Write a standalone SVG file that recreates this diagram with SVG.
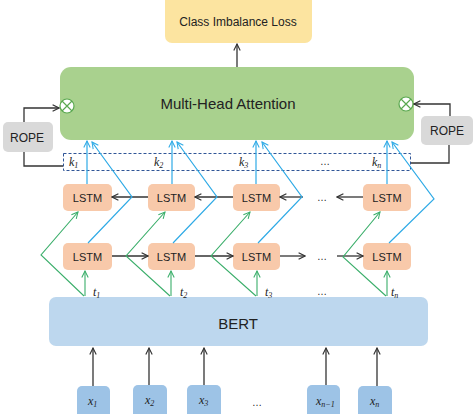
<svg xmlns="http://www.w3.org/2000/svg" width="474" height="414" viewBox="0 0 474 414">
<defs>
<style>
.lbl{font-family:"Liberation Sans",Arial,sans-serif;fill:#222;text-anchor:middle;dominant-baseline:central}
.math{font-family:"Liberation Serif","Times New Roman",serif;font-style:italic;fill:#222;font-size:12px}
.sub{font-size:8px}
.blk{stroke:#333;stroke-width:1.3;fill:none}
.blu{stroke:#2eaae6;stroke-width:1.2;fill:none}
.grn{stroke:#3aae6a;stroke-width:1.1;fill:none}
.lstm{fill:#f8c9aa}
.xin{fill:#9dc3e6}
</style>
<marker id="ak" viewBox="0 0 10 10" refX="9" refY="5" markerWidth="8" markerHeight="8" orient="auto" markerUnits="userSpaceOnUse"><path d="M1,1 L9,5 L1,9" fill="none" stroke="#333" stroke-width="1.4"/></marker>
<marker id="ab" viewBox="0 0 10 10" refX="9" refY="5" markerWidth="8" markerHeight="8" orient="auto" markerUnits="userSpaceOnUse"><path d="M1,1 L9,5 L1,9" fill="none" stroke="#2eaae6" stroke-width="1.3"/></marker>
<marker id="ag" viewBox="0 0 10 10" refX="9" refY="5" markerWidth="8" markerHeight="8" orient="auto" markerUnits="userSpaceOnUse"><path d="M1,1 L9,5 L1,9" fill="none" stroke="#3aae6a" stroke-width="1.3"/></marker>
</defs>
<rect width="474" height="414" fill="#fff"/>

<g id="loss"><rect x="165" y="-6" width="147" height="49" rx="7" fill="#fce4a0"/><text class="lbl" x="238" y="22" font-size="12">Class Imbalance Loss</text></g>
<g id="mha"><rect x="60" y="67" width="354" height="73" rx="11" fill="#a9d18e"/><text class="lbl" x="228" y="103" font-size="15">Multi-Head Attention</text>
<g stroke="#5aa850" stroke-width="1.2"><circle cx="67" cy="106" r="7" fill="#fff"/><path d="M62,101 L72,111 M72,101 L62,111"/><circle cx="406" cy="104" r="7" fill="#fff"/><path d="M401,99 L411,109 M411,99 L401,109"/></g></g>
<g id="rope-left"><rect x="3" y="122" width="50" height="30" rx="5" fill="#d9d9d9"/><text class="lbl" x="27" y="138" font-size="12">ROPE</text></g>
<g id="rope-right"><rect x="421" y="116" width="52" height="29" rx="5" fill="#d9d9d9"/><text class="lbl" x="447" y="131" font-size="12">ROPE</text></g>
<g id="keys"><rect x="63.5" y="153.5" width="347" height="17" fill="none" stroke="#2f5597" stroke-width="1" stroke-dasharray="3,2"/>
<text class="math" x="69" y="166">k<tspan class="sub" dy="2">1</tspan></text>
<text class="math" x="154" y="166">k<tspan class="sub" dy="2">2</tspan></text>
<text class="math" x="239" y="166">k<tspan class="sub" dy="2">3</tspan></text>
<text class="lbl" x="325" y="161" font-size="10">…</text>
<text class="math" x="372" y="166">k<tspan class="sub" dy="2">n</tspan></text></g>

<g id="lstm-f1"><rect class="lstm" x="63" y="243" width="49" height="27" rx="5"/><text class="lbl" x="87.5" y="257" font-size="11">LSTM</text></g>
<g id="lstm-f2"><rect class="lstm" x="148" y="243" width="47" height="27" rx="5"/><text class="lbl" x="171.5" y="257" font-size="11">LSTM</text></g>
<g id="lstm-f3"><rect class="lstm" x="233" y="243" width="47" height="27" rx="5"/><text class="lbl" x="256.5" y="257" font-size="11">LSTM</text></g>
<g id="lstm-f4"><rect class="lstm" x="363" y="243" width="48" height="27" rx="5"/><text class="lbl" x="387" y="257" font-size="11">LSTM</text></g>
<g id="lstm-b1"><rect class="lstm" x="63" y="184" width="49" height="27" rx="5"/><text class="lbl" x="87.5" y="198" font-size="11">LSTM</text></g>
<g id="lstm-b2"><rect class="lstm" x="148" y="184" width="47" height="27" rx="5"/><text class="lbl" x="171.5" y="198" font-size="11">LSTM</text></g>
<g id="lstm-b3"><rect class="lstm" x="233" y="184" width="47" height="27" rx="5"/><text class="lbl" x="256.5" y="198" font-size="11">LSTM</text></g>
<g id="lstm-b4"><rect class="lstm" x="363" y="184" width="48" height="27" rx="5"/><text class="lbl" x="387" y="198" font-size="11">LSTM</text></g>
<text class="lbl" x="322" y="197" font-size="10">…</text>
<text class="lbl" x="322" y="256" font-size="10">…</text>

<g id="bert"><rect x="49" y="297" width="379" height="49" rx="7" fill="#bdd7ee"/><text class="lbl" x="238" y="323" font-size="15">BERT</text></g>
<text class="math" x="93" y="296">t<tspan class="sub" dy="2">1</tspan></text>
<text class="math" x="180" y="296">t<tspan class="sub" dy="2">2</tspan></text>
<text class="math" x="265" y="296">t<tspan class="sub" dy="2">3</tspan></text>
<text class="lbl" x="322" y="291" font-size="10">…</text>
<text class="math" x="391" y="296">t<tspan class="sub" dy="2">n</tspan></text>

<g id="x1"><rect class="xin" x="77" y="386" width="33" height="34" rx="5"/><text class="math" x="88" y="405">x<tspan class="sub" dy="2">1</tspan></text></g>
<g id="x2"><rect class="xin" x="133" y="385" width="34" height="35" rx="5"/><text class="math" x="145" y="404">x<tspan class="sub" dy="2">2</tspan></text></g>
<g id="x3"><rect class="xin" x="187" y="385" width="34" height="35" rx="5"/><text class="math" x="199" y="404">x<tspan class="sub" dy="2">3</tspan></text></g>
<g id="xn1"><rect class="xin" x="307" y="385" width="33" height="35" rx="5"/><text class="math" x="316" y="405">x<tspan class="sub" dy="2">n−1</tspan></text></g>
<g id="xn"><rect class="xin" x="358" y="386" width="34" height="34" rx="5"/><text class="math" x="370" y="405">x<tspan class="sub" dy="2">n</tspan></text></g>
<text class="lbl" x="257" y="402" font-size="10">…</text>

<g id="connectors">
<path class="blk" d="M237,67 V44" marker-end="url(#ak)"/>
<path class="blk" d="M24,122 V108 H59" marker-end="url(#ak)"/>
<path class="blk" d="M24,152 V166 H63"/>
<path class="blk" d="M450,116 V104 H414" marker-end="url(#ak)"/>
<path class="blk" d="M411,163 H449 V145"/>
<path class="blk" d="M93,386 V348" marker-end="url(#ak)" stroke-width="1.6"/>
<path class="blk" d="M149,385 V348" marker-end="url(#ak)" stroke-width="1"/>
<path class="blk" d="M204,385 V348" marker-end="url(#ak)" stroke-width="1.6"/>
<path class="blk" d="M326,385 V348" marker-end="url(#ak)" stroke-width="1"/>
<path class="blk" d="M377,386 V348" marker-end="url(#ak)" stroke-width="1.6"/>
<path class="blk" d="M112,256 H148" marker-end="url(#ak)"/>
<path class="blk" d="M195,256 H233" marker-end="url(#ak)"/>
<path class="blk" d="M280,256 H305" marker-end="url(#ak)"/>
<path class="blk" d="M337,256 H363" marker-end="url(#ak)"/>
<path class="blk" d="M148,197 H112" marker-end="url(#ak)"/>
<path class="blk" d="M233,197 H195" marker-end="url(#ak)"/>
<path class="blk" d="M303,197 H280" marker-end="url(#ak)"/>
<path class="blk" d="M363,197 H337" marker-end="url(#ak)"/>
<g id="col1"><path class="grn" d="M85,296 V271" marker-end="url(#ag)"/><path class="grn" d="M84,296 L41,255 L78,212" marker-end="url(#ag)"/><path class="blu" d="M88,243 L132,197 L92,142" marker-end="url(#ab)"/><path class="blu" d="M87,184 V141" marker-end="url(#ab)"/></g>
<g id="col2"><path class="grn" d="M171,296 V271" marker-end="url(#ag)"/><path class="grn" d="M170,296 L126,256 L165,212" marker-end="url(#ag)"/><path class="blu" d="M173,243 L217,197 L177,142" marker-end="url(#ab)"/><path class="blu" d="M172,184 V141" marker-end="url(#ab)"/></g>
<g id="col3"><path class="grn" d="M257,296 V271" marker-end="url(#ag)"/><path class="grn" d="M256,296 L211,256 L250,212" marker-end="url(#ag)"/><path class="blu" d="M258,243 L302,197 L262,142" marker-end="url(#ab)"/><path class="blu" d="M256,184 V141" marker-end="url(#ab)"/></g>
<g id="col4"><path class="grn" d="M387,296 V271" marker-end="url(#ag)"/><path class="grn" d="M386,296 L343,257 L380,212" marker-end="url(#ag)"/><path class="blu" d="M389,243 L434,199 L392,142" marker-end="url(#ab)"/><path class="blu" d="M387,184 V141" marker-end="url(#ab)"/></g>
</g>
</svg>
